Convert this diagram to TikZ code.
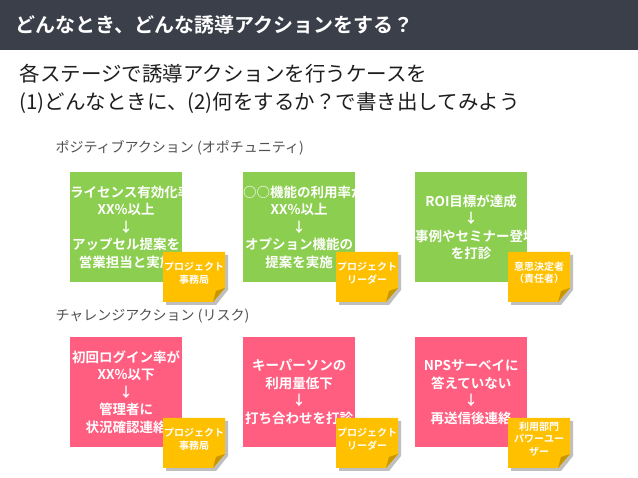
\documentclass[tikz,border=0pt]{standalone}
\usepackage{fontspec}
\setmainfont{Noto Sans CJK JP}[BoldFont={Noto Sans CJK JP Bold}]
\definecolor{cbar}{RGB}{59,63,74}
\definecolor{cgreen}{RGB}{140,206,80}
\definecolor{cpink}{RGB}{255,94,128}
\definecolor{cnote}{RGB}{255,192,0}
\definecolor{cfold}{RGB}{200,150,0}
\definecolor{chd}{RGB}{80,80,80}
\definecolor{csub}{RGB}{30,30,30}
\begin{document}
\begin{tikzpicture}[x=1pt,y=-1pt,
  box/.style={minimum width=112pt,minimum height=110pt,anchor=north west,inner sep=0pt,text=white,font=\bfseries\fontsize{13.5}{17.5}\selectfont,align=center,text width=112pt},
  gbox/.style={box,fill=cgreen},
  pbox/.style={box,fill=cpink},
  note/.style={text=white,font=\bfseries\fontsize{10}{12.5}\selectfont,align=center},
  hd/.style={anchor=west,text=chd,font=\fontsize{14}{16}\selectfont}]
\useasboundingbox (0,0) rectangle (638,478);
\fill[white] (0,0) rectangle (638,478);
\fill[cbar] (0,0) rectangle (638,50);
\node[anchor=west,text=white,font=\bfseries\fontsize{20}{22}\selectfont] (title) at (12,25) {どんなとき、どんな誘導アクションをする？};
\node[anchor=west,text=csub,font=\fontsize{20.5}{28}\selectfont,align=left] (sub) at (16,89) {各ステージで誘導アクションを行うケースを\\(1)どんなときに、(2)何をするか？で書き出してみよう};
\node[hd] (h1) at (52,148) {ポジティブアクション (オポチュニティ)};
\node[hd] (h2) at (52,316) {チャレンジアクション (リスク)};
\newcommand{\stk}[4]{% name, x, y, text
  \fill[black!25] (#2+3,#3+3) -- (#2+65,#3+3) -- (#2+65,#3+38) -- (#2+53,#3+53) -- (#2+3,#3+53) -- cycle;
  \fill[cnote] (#2,#3) -- (#2+62,#3) -- (#2+62,#3+36) -- (#2+50,#3+50) -- (#2,#3+50) -- cycle;
  \fill[cfold] (#2+62,#3+36) -- (#2+50,#3+50) -- (#2+53,#3+39) -- cycle;
  \node[note] (#1) at (#2+31,#3+21) {#4};}
\node[gbox] (g1) at (70,172) {ライセンス有効化率\\XX\%以上\\↓\\アップセル提案を\\営業担当と実施};
\node[gbox] (g2) at (243,172) {○○機能の利用率が\\XX\%以上\\↓\\オプション機能の\\提案を実施};
\node[gbox] (g3) at (415,172) {ROI目標が達成\\↓\\事例やセミナー登壇\\を打診};
\node[pbox] (p1) at (70,337) {初回ログイン率が\\XX\%以下\\↓\\管理者に\\状況確認連絡};
\node[pbox] (p2) at (243,337) {キーパーソンの\\利用量低下\\↓\\打ち合わせを打診};
\node[pbox] (p3) at (415,337) {NPSサーベイに\\答えていない\\↓\\再送信後連絡};
\stk{n1}{163}{252}{プロジェクト\\事務局}
\stk{n2}{336}{252}{プロジェクト\\リーダー}
\stk{n3}{508}{252}{意思決定者\\（責任者）}
\stk{n4}{163}{418}{プロジェクト\\事務局}
\stk{n5}{336}{418}{プロジェクト\\リーダー}
\stk{n6}{508}{418}{利用部門\\パワーユー\\ザー}
\end{tikzpicture}
\end{document}
